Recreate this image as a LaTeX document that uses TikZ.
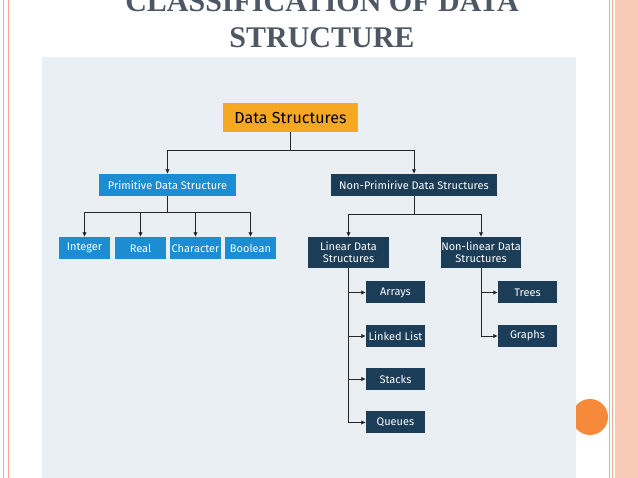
\documentclass[tikz,border=0pt]{standalone}
\usepackage{fontspec}
\setmainfont{Liberation Serif}
\newfontfamily\boxfont{Fira Sans}
\usetikzlibrary{arrows.meta}
\definecolor{panel}{HTML}{EAEFF3}
\definecolor{blu}{HTML}{1C8DD3}
\definecolor{navy}{HTML}{1B3D57}
\definecolor{orng}{HTML}{F7A823}
\definecolor{peach}{HTML}{F9CBB6}
\definecolor{salmon}{HTML}{F2A88E}
\definecolor{ttl}{HTML}{4E5864}
\definecolor{dot}{HTML}{F68A3A}
\begin{document}
\begin{tikzpicture}[x=1pt,y=-1pt,
  bx/.style={draw=none,inner sep=0pt,font=\boxfont\fontsize{11}{12.5}\selectfont,text=white,align=center},
  pb/.style={bx,fill=blu},
  nb/.style={bx,fill=navy},
  conn/.style={line width=0.8pt,black!85},
  arr/.style={conn,-{Latex[length=4.5pt,width=4.5pt]}}]
\useasboundingbox (0,0) rectangle (638,478);
\fill[white] (0,0) rectangle (638,478);
% decorations
\fill[peach] (615,0) rectangle (638,478);
\draw[salmon,line width=0.8pt] (609,0) -- (609,478) (612,0) -- (612,478);
\draw[salmon,line width=0.8pt] (3,0) -- (3,478) (8,0) -- (8,478);
\fill[dot] (590,417) circle (18);
\fill[panel] (42,57) rectangle (576,478);
% title
\node[text=ttl,font=\bfseries\fontsize{30}{30}\selectfont] (t1) at (322,2) {CLASSIFICATION OF DATA};
\node[text=ttl,font=\bfseries\fontsize{30}{30}\selectfont] (t2) at (322,38) {STRUCTURE};
% nodes
\node[bx,fill=orng,text=black,font=\boxfont\fontsize{16}{18}\selectfont,minimum width=135,minimum height=29] (ds) at (290.5,117.5) {Data Structures};
\node[pb,minimum width=137,minimum height=22] (pr) at (167.5,185) {Primitive Data Structure};
\node[nb,minimum width=166,minimum height=22] (np) at (414,185) {Non-Primirive Data Structures};
\foreach \n/\t/\x in {i/Integer/84.5,r/Real/140.5,c/Character/195.5,b/Boolean/250.5}
  \node[pb,minimum width=51,minimum height=22] (\n) at (\x,248) {\t};
\node[nb,minimum width=81,minimum height=31] (lin) at (348.5,252.5) {Linear Data\\Structures};
\node[nb,minimum width=80,minimum height=31] (nl) at (481,252.5) {Non-linear Data\\Structures};
\foreach \n/\t/\y in {ar/Arrays/292.5,ll/Linked List/336,st/Stacks/379,qu/Queues/422.5}
  \node[nb,minimum width=59,minimum height=22] (\n) at (395.5,\y) {\t};
\foreach \n/\t/\y in {tr/Trees/292.5,gr/Graphs/336}
  \node[nb,minimum width=59,minimum height=22] (\n) at (527.5,\y) {\t};
% connectors
\coordinate (j1) at (290.5,150);
\draw[conn] (ds.south) -- (j1);
\draw[arr] (j1) -| (pr.north);
\draw[arr] (j1) -| (np.north);
\coordinate (j2) at (167.5,212);
\draw[conn] (pr.south) -- (j2);
\foreach \n in {i,r,c,b} \draw[arr] (j2) -| (\n.north);
\coordinate (j3) at (414,214);
\draw[conn] (np.south) -- (j3);
\draw[arr] (j3) -| (lin.north);
\draw[arr] (j3) -| (nl.north);
\foreach \n in {ar,ll,st,qu} \draw[arr] (lin.south) |- (\n.west);
\foreach \n in {tr,gr} \draw[arr] (nl.south) |- (\n.west);
\end{tikzpicture}
\end{document}
